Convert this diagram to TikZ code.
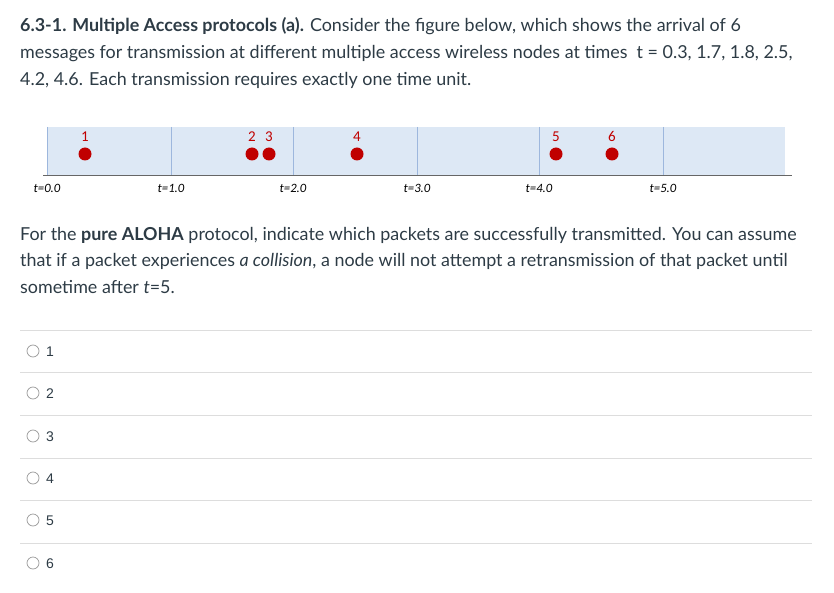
\documentclass[tikz,border=0pt]{standalone}
\usepackage{fontspec}
\setmainfont{Lato}
\newfontfamily\calfont{Carlito}
\newfontfamily\optfont{Liberation Sans}
\definecolor{txt}{HTML}{2D3B45}
\definecolor{band}{HTML}{DDE8F5}
\definecolor{tickc}{HTML}{9DB7DD}
\definecolor{dotred}{HTML}{C00000}
\definecolor{sep}{HTML}{DDDDDD}
\begin{document}
\begin{tikzpicture}[x=1pt,y=-1pt,
  body/.style={anchor=base west,inner sep=0pt,text=txt,font=\fontsize{17.9}{21}\selectfont},
  tlabel/.style={anchor=base,inner sep=0pt,text=black,font=\calfont\itshape\fontsize{12.7}{14}\selectfont},
  pnum/.style={anchor=base,inner sep=0pt,text=dotred,font=\calfont\fontsize{15}{17}\selectfont},
  pdot/.style={circle,fill=dotred,inner sep=0pt,minimum size=13pt},
  radio/.style={circle,draw=gray!80,line width=0.7pt,inner sep=0pt,minimum size=12pt},
  onum/.style={anchor=base west,inner sep=0pt,text=txt,font=\optfont\fontsize{14}{16}\selectfont},
  sepline/.style={draw=sep,line width=0.8pt}]
\useasboundingbox (0,0) rectangle (834,593);
% question text
\node[body] (q1) at (20,32) {\textbf{6.3-1. Multiple Access protocols (a).} Consider the figure below, which shows the arrival of 6};
\node[body] (q2) at (20,59) {messages for transmission at different multiple access wireless nodes at times~~t = 0.3, 1.7, 1.8, 2.5,};
\node[body] (q3) at (20,86) {4.2, 4.6. Each transmission requires exactly one time unit.};
% timeline
\fill[band] (47,127) rectangle (785,176);
\foreach \x/\n in {47/0,171/1,293/2,417/3,539/4,663/5}{
  \draw[tickc,line width=0.8pt] (\x,127) -- (\x,176);
  \node[tlabel] (tl\n) at (\x,193) {t=\n.0};
}
\coordinate (axL) at (43,176);
\coordinate (axR) at (792,176);
\draw[gray!80!black,line width=1pt] (axL) -- (axR);
\foreach \x/\n in {85/1,252/2,269/3,357/4,556/5,612/6}{
  \node[pdot] (d\n) at (\x,154) {};
  \node[pnum] (n\n) at (\x,142) {\n};
}
% second paragraph
\node[body] (p1) at (20,240.5) {For the \textbf{pure ALOHA} protocol, indicate which packets are successfully transmitted. You can assume};
\node[body] (p2) at (20,267) {that if a packet experiences \textit{a collision}, a node will not attempt a retransmission of that packet until};
\node[body] (p3) at (20,294) {sometime after \textit{t}=5.};
% options
\foreach \y in {330,372,415,458,500,543}{
  \draw[sepline] (20,\y) -- (812,\y);
}
\foreach \y/\n in {351/1,393/2,436/3,478/4,520/5,563/6}{
  \node[radio] (r\n) at (33,\y) {};
  \node[onum] (o\n) at (46,\y+5) {\n};
}
\end{tikzpicture}
\end{document}
